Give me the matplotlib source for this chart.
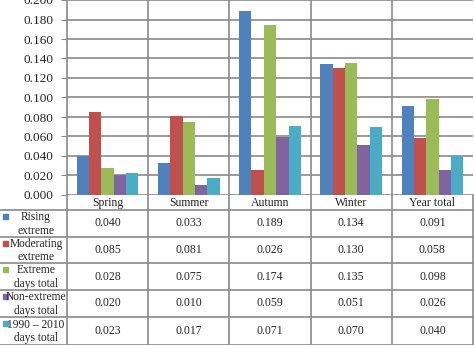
import numpy as np
import matplotlib.pyplot as plt
from matplotlib.patches import Rectangle

# ---------- Data ----------
categories = ["Spring", "Summer", "Autumn", "Winter", "Year total"]
series_names = ["Rising\nextreme", "Moderating\nextreme", "Extreme\ndays total",
                "Non-extreme\ndays total", "1990 \u2013 2010\ndays total"]
rising = [0.040, 0.033, 0.189, 0.134, 0.091]
moderating = [0.085, 0.081, 0.026, 0.130, 0.058]
extreme_total = [0.028, 0.075, 0.174, 0.135, 0.098]
non_extreme_total = [0.020, 0.010, 0.059, 0.051, 0.026]
period_total = [0.023, 0.017, 0.071, 0.070, 0.040]
series = [rising, moderating, extreme_total, non_extreme_total, period_total]
colors = ["#4F81BD", "#C0504D", "#9BBB59", "#8064A2", "#4BACC6"]
y_ticks = np.arange(0, 0.2001, 0.02)

plt.rcParams['font.family'] = ['Liberation Serif', 'DejaVu Serif']
txt_c = "#262626"

W, H = 474, 345
fig = plt.figure(figsize=(W / 100, H / 100), dpi=100)
grid_c = "#8a8a8a"

# ---------- Chart area ----------
x0, x1 = 67, 473
y_zero = 195
ax = fig.add_axes([x0 / W, 1 - y_zero / H, (x1 - x0) / W, y_zero / H])
n = len(categories)
x = np.arange(n)
bw = 0.152
for i, (vals, c) in enumerate(zip(series, colors)):
    ax.bar(x + (i - 2) * bw, vals, bw, color=c, zorder=3)
ax.set_xlim(-0.5, n - 0.5)
ax.set_ylim(0, 0.2)
ax.set_yticks(y_ticks)
ax.set_yticklabels([f"{v:.3f}" for v in y_ticks], fontsize=9.5, color=txt_c)
ax.set_xticks([])
ax.grid(axis='y', color=grid_c, lw=1.2, zorder=0)
for k in range(1, n):
    ax.axvline(k - 0.5, color=grid_c, lw=1.2, zorder=1)
for s in ["top", "right", "bottom"]:
    ax.spines[s].set_visible(False)
ax.spines["left"].set_color(grid_c)
ax.spines["left"].set_linewidth(1.2)
ax.tick_params(axis='y', length=4, color=grid_c, pad=6)
ax.patch.set_alpha(0)

# ---------- Data table (pixel coordinates) ----------
tb = fig.add_axes([0, 0, 1, 1])
tb.set_xlim(0, W)
tb.set_ylim(H, 0)
tb.axis("off")
col_w = (x1 - x0) / n
row_edges = [y_zero, 210, 237, 263, 290, 317, 345]
for y in row_edges[1:]:
    tb.plot([0, W], [y, y], color=grid_c, lw=1.2)
for k in range(n + 1):
    xv = x0 + k * col_w
    tb.plot([xv, xv], [y_zero, H], color=grid_c, lw=1.2)
for k, cat in enumerate(categories):
    tb.text(x0 + (k + 0.5) * col_w, (row_edges[0] + row_edges[1]) / 2 + 0.5, cat,
            ha="center", va="center", fontsize=8.5, color=txt_c)
for r, (name, vals, c) in enumerate(zip(series_names, series, colors)):
    top, bot = row_edges[r + 1], row_edges[r + 2]
    yc = (top + bot) / 2
    tb.text(36, yc + 0.5, name, ha="center", va="center", fontsize=8.3,
            linespacing=1.2, color=txt_c)
    tb.add_patch(Rectangle((3, top + 4), 5, 5, color=c))
    for k, v in enumerate(vals):
        tb.text(x0 + (k + 0.5) * col_w, yc, f"{v:.3f}", ha="center", va="center",
                fontsize=8.5, color=txt_c)

fig.savefig("out.png", dpi=100)
